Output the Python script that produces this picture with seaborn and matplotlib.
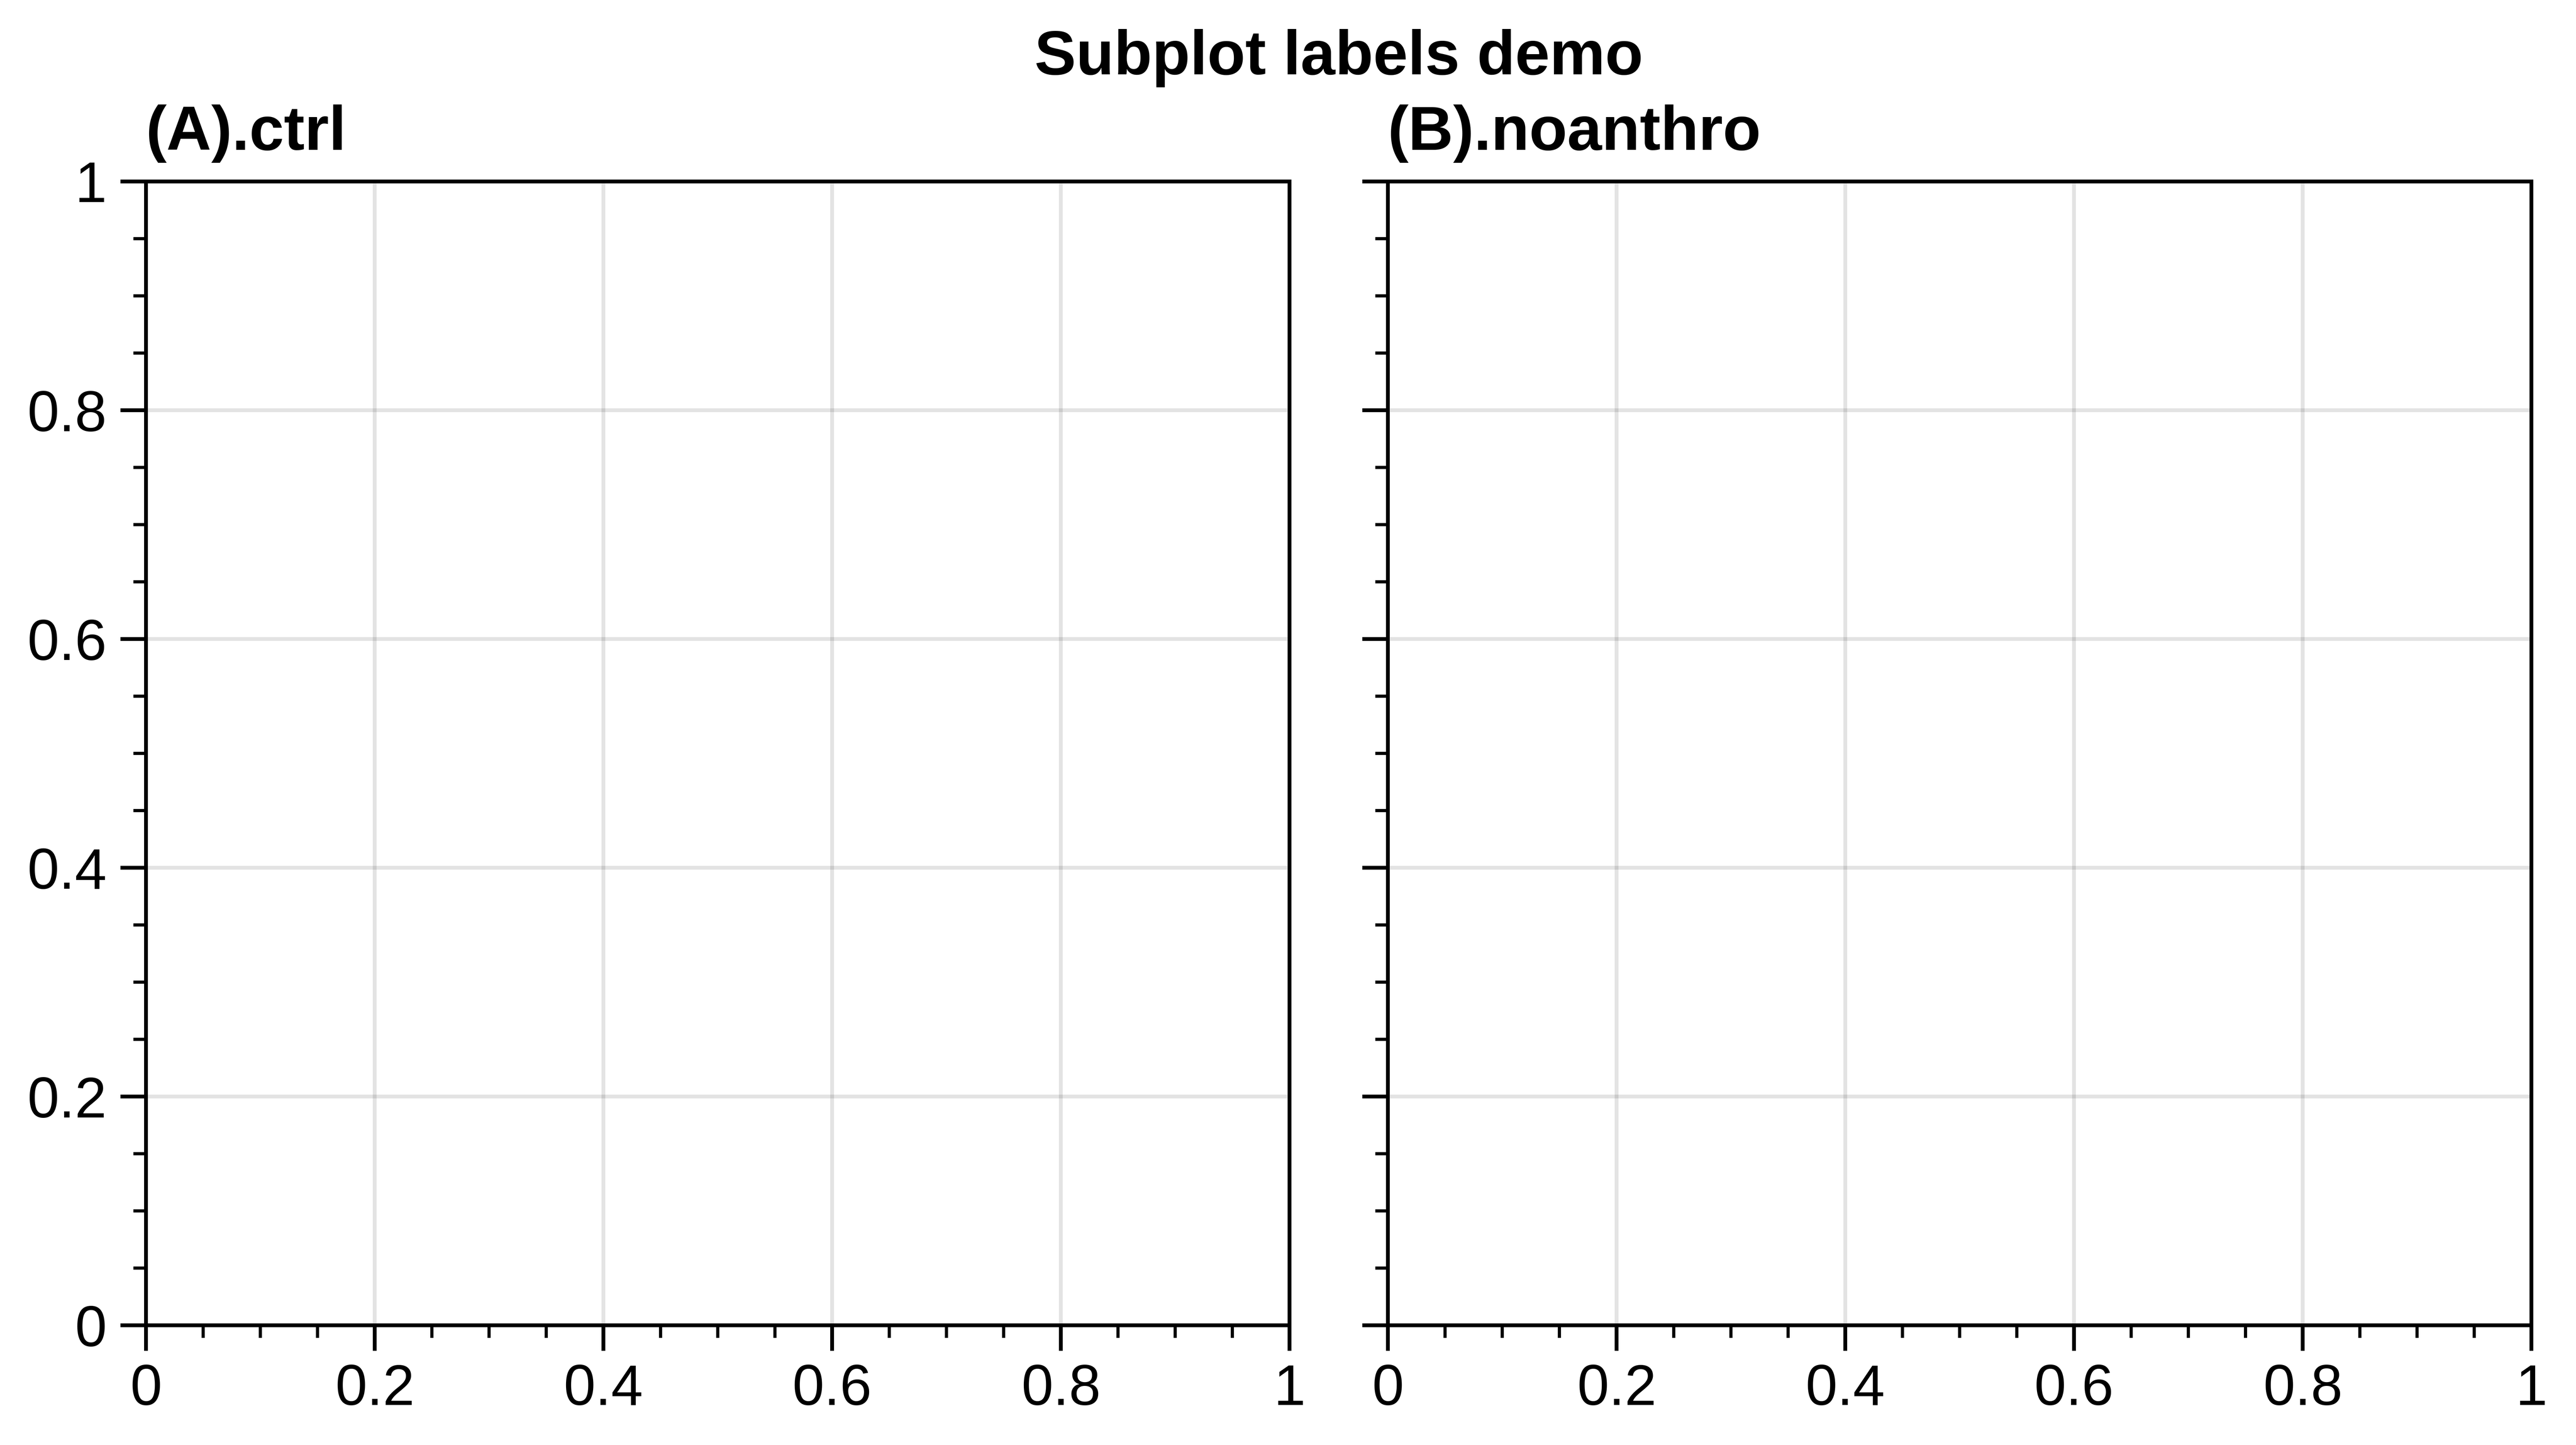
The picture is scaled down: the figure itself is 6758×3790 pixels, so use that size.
import numpy as np
import matplotlib
matplotlib.use('Agg')
import matplotlib.pyplot as plt
import seaborn as sns
from matplotlib.ticker import MultipleLocator, FixedLocator, FixedFormatter

# panel names and tick labels
panel_titles = ['(A).ctrl', '(B).noanthro']
suptitle = 'Subplot labels demo'
major_ticks = [0, 0.2, 0.4, 0.6, 0.8, 1]
tick_labels = ['0', '0.2', '0.4', '0.6', '0.8', '1']
minor_step = 0.05

sns.set_theme(style='ticks')
plt.rcParams['font.family'] = ['Liberation Sans', 'DejaVu Sans']
plt.rcParams.update({
    'text.color': 'black',
    'axes.labelcolor': 'black',
    'axes.titlecolor': 'black',
    'axes.linewidth': 0.6,
    'axes.edgecolor': 'black',
    'xtick.major.size': 4, 'ytick.major.size': 4,
    'xtick.minor.size': 2, 'ytick.minor.size': 2,
    'xtick.major.width': 0.6, 'ytick.major.width': 0.6,
    'xtick.minor.width': 0.5, 'ytick.minor.width': 0.5,
    'xtick.major.pad': 2, 'ytick.major.pad': 2.2,
    'xtick.labelsize': 9, 'ytick.labelsize': 9,
    'xtick.color': 'black', 'ytick.color': 'black',
    'xtick.labelcolor': 'black', 'ytick.labelcolor': 'black',
})

W, H = 6758, 3790
dpi = 1200
fig = plt.figure(figsize=(W / dpi, H / dpi), dpi=dpi)

lefts = [383, 3641]
ax_w, ax_h = 3000, 3000
bottom = H - 3476

axes = []
for i, name in enumerate(panel_titles):
    ax = fig.add_axes([lefts[i] / W, bottom / H, ax_w / W, ax_h / H])
    ax.set_xlim(0, 1)
    ax.set_ylim(0, 1)
    ax.xaxis.set_major_locator(FixedLocator(major_ticks))
    ax.yaxis.set_major_locator(FixedLocator(major_ticks))
    ax.xaxis.set_major_formatter(FixedFormatter(tick_labels))
    ax.yaxis.set_major_formatter(FixedFormatter(tick_labels))
    ax.xaxis.set_minor_locator(MultipleLocator(minor_step))
    ax.yaxis.set_minor_locator(MultipleLocator(minor_step))
    ax.tick_params(which='both', direction='out', top=False, right=False)
    ax.grid(True, which='major', color='black', alpha=0.11, linewidth=0.6)
    ax.set_axisbelow(True)
    for s in ax.spines.values():
        s.set_linewidth(0.6)
        s.set_color('black')
        s.set_zorder(3)
    if i > 0:
        ax.tick_params(axis='y', labelleft=False)
    ax.set_title(name, loc='left', fontsize=9.8, fontweight='bold', pad=5,
                 color='black')
    axes.append(ax)

cx = (lefts[0] + lefts[1] + ax_w) / 2 / W
fig.text(cx, 1 - 195 / H, suptitle, ha='center', va='baseline',
         fontsize=9.8, fontweight='bold', color='black')

fig.savefig('out.png', dpi=dpi, facecolor='white')
